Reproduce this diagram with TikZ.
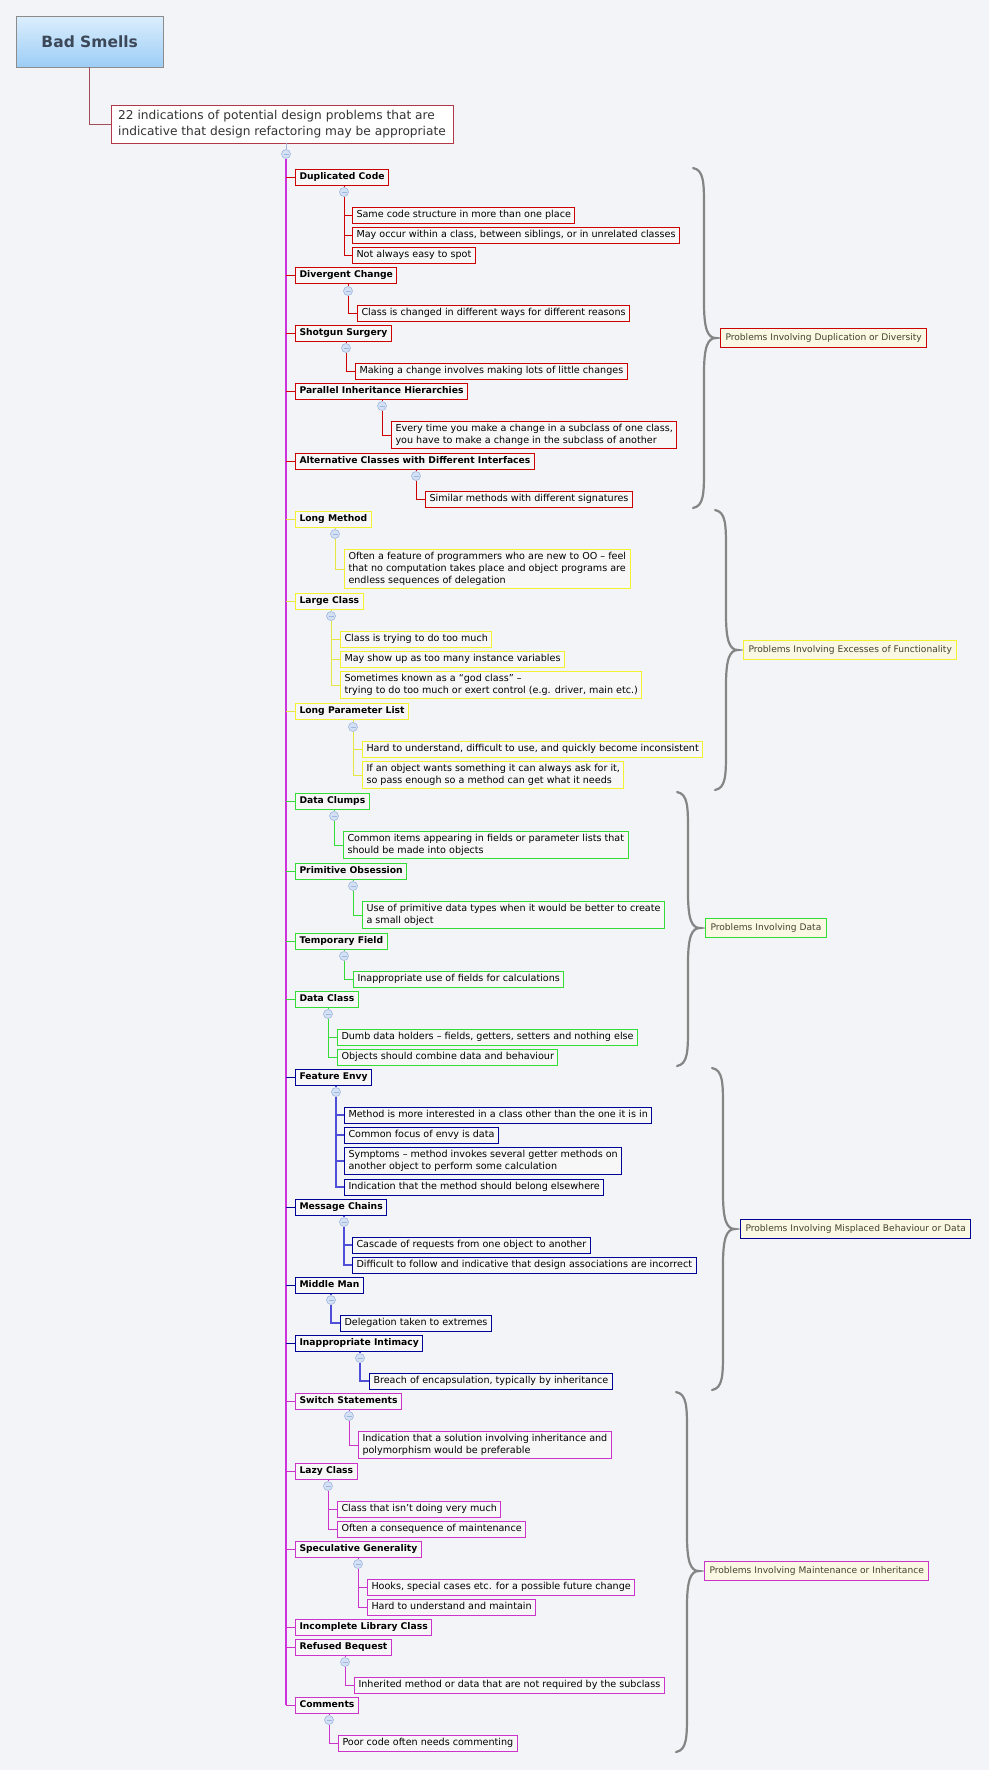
\documentclass[tikz,border=0pt]{standalone}
\usepackage{fontspec}
\setmainfont{DejaVu Sans}
\begin{document}
\begin{tikzpicture}[x=1pt,y=-1pt,
 base/.style={draw,fill=white!97!black,inner xsep=4pt,inner ysep=2.75pt,text height=8pt,text depth=2.5pt,anchor=west,align=left,font=\fontsize{9.6}{12}\selectfont,line width=1pt},
 topic/.style={base,font=\fontsize{9.2}{12}\selectfont\bfseries},
 sub/.style={base},
 ml/.style={text height={},text depth={},inner ysep=2.5pt},
 grp/.style={draw,fill=cream,inner xsep=5pt,text height=8pt,text depth=2.5pt,inner ysep=4pt,anchor=west,font=\fontsize{9.1}{10}\selectfont,text=lbltext,line width=1pt},
 coll/.style={circle,minimum size=9pt,inner sep=0pt,fill=collfill,draw=colldraw,line width=0.6pt,
   path picture={\draw[colldraw,line width=0.8pt] ([xshift=-2.5pt]path picture bounding box.center) -- ++(5pt,0);}},
 cR/.style={draw=cred},cY/.style={draw=cyel},cG/.style={draw=cgrn},cB/.style={draw=cblu},cM/.style={draw=cmag},
 lR/.style={cred,line width=1pt},lY/.style={cyelline,line width=1pt},lG/.style={cgrn,line width=1pt},lB/.style={cbluline,line width=1.4pt},lM/.style={cmag,line width=1pt},
 brace/.style={draw=bracegray,line width=2.2pt,line cap=round}]
\definecolor{bg}{HTML}{F2F4F7}
\definecolor{cred}{HTML}{CC0000}
\definecolor{cyel}{HTML}{F2F230}
\definecolor{cyelline}{HTML}{E6E640}
\definecolor{cgrn}{HTML}{33DD33}
\definecolor{cblu}{HTML}{000099}
\definecolor{cbluline}{HTML}{4F4FD8}
\definecolor{cmag}{HTML}{CC33CC}
\definecolor{mainline}{HTML}{CC33DD}
\definecolor{cream}{HTML}{FAF7E3}
\definecolor{lbltext}{HTML}{44442A}
\definecolor{collfill}{HTML}{D4E1F5}
\definecolor{colldraw}{HTML}{9FB6DE}
\definecolor{bracegray}{HTML}{858585}
\definecolor{titletext}{HTML}{3C4858}
\definecolor{descborder}{HTML}{B03848}
\definecolor{topblue}{HTML}{DCEEFD}
\definecolor{botblue}{HTML}{9CCDF6}
\fill[bg] (0,0) rectangle (989,1770);
\useasboundingbox (0,0) rectangle (989,1770);

% root
\node[draw=black!45,top color=topblue,bottom color=botblue,minimum width=147pt,minimum height=51pt,inner sep=0pt,font=\fontsize{15.5}{18}\selectfont\bfseries,text=titletext,anchor=north west] (bs) at (16,16) {Bad Smells};
\node[draw=descborder,fill=white,anchor=west,align=left,inner xsep=7pt,inner ysep=5pt,font=\fontsize{12.2}{16}\selectfont,text=black!80] (desc) at (111,124) {22 indications of potential design problems that are\\indicative that design refactoring may be appropriate};
\draw[descborder!70!gray,line width=1pt] (bs.south) |- (desc.west);
\node[coll] (c0) at (286,154) {};
\draw[colldraw] (desc.south -| c0) -- (c0);
\coordinate (mEnd) at (286,1705);
\draw[mainline,line width=2.6pt] (c0.south) -- (mEnd);

% ---------- red group
\node[topic,cR] (t1) at (295,177) {Duplicated Code};
\node[coll] (k1) at (344,192) {};
\node[sub,cR] (s11) at (352,215) {Same code structure in more than one place};
\node[sub,cR] (s12) at (352,235) {May occur within a class, between siblings, or in unrelated classes};
\node[sub,cR] (s13) at (352,255) {Not always easy to spot};
\node[topic,cR] (t2) at (295,275) {Divergent Change};
\node[coll] (k2) at (348,291) {};
\node[sub,cR] (s21) at (357,313) {Class is changed in different ways for different reasons};
\node[topic,cR] (t3) at (295,333) {Shotgun Surgery};
\node[coll] (k3) at (346,348) {};
\node[sub,cR] (s31) at (355,371) {Making a change involves making lots of little changes};
\node[topic,cR] (t4) at (295,391) {Parallel Inheritance Hierarchies};
\node[coll] (k4) at (382,406) {};
\node[sub,ml,cR] (s41) at (391,435) {Every time you make a change in a subclass of one class,\\you have to make a change in the subclass of another};
\node[topic,cR] (t5) at (295,461) {Alternative Classes with Different Interfaces};
\node[coll] (k5) at (416,476) {};
\node[sub,cR] (s51) at (425,499) {Similar methods with different signatures};
\foreach \t/\k in {t1/k1,t2/k2,t3/k3,t4/k4,t5/k5}{
 \draw[lR] (\t.west -| mEnd) -- (\t.west);
 \draw[lR] (\t.south -| \k) -- (\k.north);}
\foreach \k/\s in {k1/s11,k1/s12,k1/s13,k2/s21,k3/s31,k4/s41,k5/s51}{\draw[lR] (\k.south) |- (\s.west);}

% ---------- yellow group
\node[topic,cY] (t6) at (295,519) {Long Method};
\node[coll] (k6) at (335,534) {};
\node[sub,ml,cY] (s61) at (344,569) {Often a feature of programmers who are new to OO -- feel\\that no computation takes place and object programs are\\endless sequences of delegation};
\node[topic,cY] (t7) at (295,601) {Large Class};
\node[coll] (k7) at (331,616) {};
\node[sub,cY] (s71) at (340,639) {Class is trying to do too much};
\node[sub,cY] (s72) at (340,659) {May show up as too many instance variables};
\node[sub,ml,cY] (s73) at (340,685) {Sometimes known as a “god class” --\\trying to do too much or exert control (e.g. driver, main etc.)};
\node[topic,cY] (t8) at (295,711) {Long Parameter List};
\node[coll] (k8) at (353,727) {};
\node[sub,cY] (s81) at (362,749) {Hard to understand, difficult to use, and quickly become inconsistent};
\node[sub,ml,cY] (s82) at (362,775) {If an object wants something it can always ask for it,\\so pass enough so a method can get what it needs};
\foreach \t/\k in {t6/k6,t7/k7,t8/k8}{
 \draw[lY] (\t.west -| mEnd) -- (\t.west);
 \draw[lY] (\t.south -| \k) -- (\k.north);}
\foreach \k/\s in {k6/s61,k7/s71,k7/s72,k7/s73,k8/s81,k8/s82}{\draw[lY] (\k.south) |- (\s.west);}

% ---------- green group
\node[topic,cG] (t9) at (295,801) {Data Clumps};
\node[coll] (k9) at (334,816) {};
\node[sub,ml,cG] (s91) at (343,845) {Common items appearing in fields or parameter lists that\\should be made into objects};
\node[topic,cG] (t10) at (295,871) {Primitive Obsession};
\node[coll] (k10) at (353,886) {};
\node[sub,ml,cG] (s101) at (362,915) {Use of primitive data types when it would be better to create\\a small object};
\node[topic,cG] (t11) at (295,941) {Temporary Field};
\node[coll] (k11) at (344,956) {};
\node[sub,cG] (s111) at (353,979) {Inappropriate use of fields for calculations};
\node[topic,cG] (t12) at (295,999) {Data Class};
\node[coll] (k12) at (328,1014) {};
\node[sub,cG] (s121) at (337,1037) {Dumb data holders -- fields, getters, setters and nothing else};
\node[sub,cG] (s122) at (337,1057) {Objects should combine data and behaviour};
\foreach \t/\k in {t9/k9,t10/k10,t11/k11,t12/k12}{
 \draw[lG] (\t.west -| mEnd) -- (\t.west);
 \draw[lG] (\t.south -| \k) -- (\k.north);}
\foreach \k/\s in {k9/s91,k10/s101,k11/s111,k12/s121,k12/s122}{\draw[lG] (\k.south) |- (\s.west);}

% ---------- blue group
\node[topic,cB] (t13) at (295,1077) {Feature Envy};
\node[coll] (k13) at (336,1092) {};
\node[sub,cB] (s131) at (344,1115) {Method is more interested in a class other than the one it is in};
\node[sub,cB] (s132) at (344,1135) {Common focus of envy is data};
\node[sub,ml,cB] (s133) at (344,1161) {Symptoms -- method invokes several getter methods on\\another object to perform some calculation};
\node[sub,cB] (s134) at (344,1187) {Indication that the method should belong elsewhere};
\node[topic,cB] (t14) at (295,1207) {Message Chains};
\node[coll] (k14) at (344,1222) {};
\node[sub,cB] (s141) at (352,1245) {Cascade of requests from one object to another};
\node[sub,cB] (s142) at (352,1265) {Difficult to follow and indicative that design associations are incorrect};
\node[topic,cB] (t15) at (295,1285) {Middle Man};
\node[coll] (k15) at (331,1300) {};
\node[sub,cB] (s151) at (340,1323) {Delegation taken to extremes};
\node[topic,cB] (t16) at (295,1343) {Inappropriate Intimacy};
\node[coll] (k16) at (360,1358) {};
\node[sub,cB] (s161) at (369,1381) {Breach of encapsulation, typically by inheritance};
\foreach \t/\k in {t13/k13,t14/k14,t15/k15,t16/k16}{
 \draw[cblu,line width=1pt] (\t.west -| mEnd) -- (\t.west);
 \draw[lB] (\t.south -| \k) -- (\k.north);}
\foreach \k/\s in {k13/s131,k13/s132,k13/s133,k13/s134,k14/s141,k14/s142,k15/s151,k16/s161}{\draw[lB] (\k.south) |- (\s.west);}

% ---------- magenta group
\node[topic,cM] (t17) at (295,1401) {Switch Statements};
\node[coll] (k17) at (349,1416) {};
\node[sub,ml,cM] (s171) at (358,1445) {Indication that a solution involving inheritance and\\polymorphism would be preferable};
\node[topic,cM] (t18) at (295,1471) {Lazy Class};
\node[coll] (k18) at (328,1486) {};
\node[sub,cM] (s181) at (337,1509) {Class that isn't doing very much};
\node[sub,cM] (s182) at (337,1529) {Often a consequence of maintenance};
\node[topic,cM] (t19) at (295,1549) {Speculative Generality};
\node[coll] (k19) at (358,1564) {};
\node[sub,cM] (s191) at (367,1587) {Hooks, special cases etc. for a possible future change};
\node[sub,cM] (s192) at (367,1607) {Hard to understand and maintain};
\node[topic,cM] (t20) at (295,1627) {Incomplete Library Class};
\node[topic,cM] (t21) at (295,1647) {Refused Bequest};
\node[coll] (k21) at (345,1662) {};
\node[sub,cM] (s211) at (354,1685) {Inherited method or data that are not required by the subclass};
\node[topic,cM] (t22) at (295,1705) {Comments};
\node[coll] (k22) at (329,1720) {};
\node[sub,cM] (s221) at (338,1743) {Poor code often needs commenting};
\foreach \t in {t17,t18,t19,t20,t21,t22}{\draw[lM] (\t.west -| mEnd) -- (\t.west);}
\foreach \t/\k in {t17/k17,t18/k18,t19/k19,t21/k21,t22/k22}{\draw[lM] (\t.south -| \k) -- (\k.north);}
\foreach \k/\s in {k17/s171,k18/s181,k18/s182,k19/s191,k19/s192,k21/s211,k22/s221}{\draw[lM] (\k.south) |- (\s.west);}

% ---------- braces and group labels
\newcommand{\mybrace}[4]{% open x, top, bottom, tip y
 \pgfmathsetmacro{\sx}{#1+11}\pgfmathsetmacro{\tx}{#1+23}
 \draw[brace] (#1,#2) .. controls (\sx,#2+2) and (\sx,#2+15) .. (\sx,#2+40)
   -- (\sx,#4-35) .. controls (\sx,#4-8) and (\sx+4,#4) .. (\tx,#4)
   .. controls (\sx+4,#4) and (\sx,#4+8) .. (\sx,#4+35)
   -- (\sx,#3-40) .. controls (\sx,#3-15) and (\sx,#3-2) .. (#1,#3);}
\mybrace{693}{168}{508}{338}
\mybrace{715}{510}{790}{650}
\mybrace{677}{792}{1066}{928}
\mybrace{712}{1068}{1390}{1229}
\mybrace{676}{1392}{1752}{1571}
\node[grp,draw=cred] (g1) at (720,338) {Problems Involving Duplication or Diversity};
\node[grp,draw=cyel] (g2) at (743,650) {Problems Involving Excesses of Functionality};
\node[grp,draw=cgrn] (g3) at (705,928) {Problems Involving Data};
\node[grp,draw=cblu] (g4) at (740,1229) {Problems Involving Misplaced Behaviour or Data};
\node[grp,draw=cmag] (g5) at (704,1571) {Problems Involving Maintenance or Inheritance};
\end{tikzpicture}
\end{document}
